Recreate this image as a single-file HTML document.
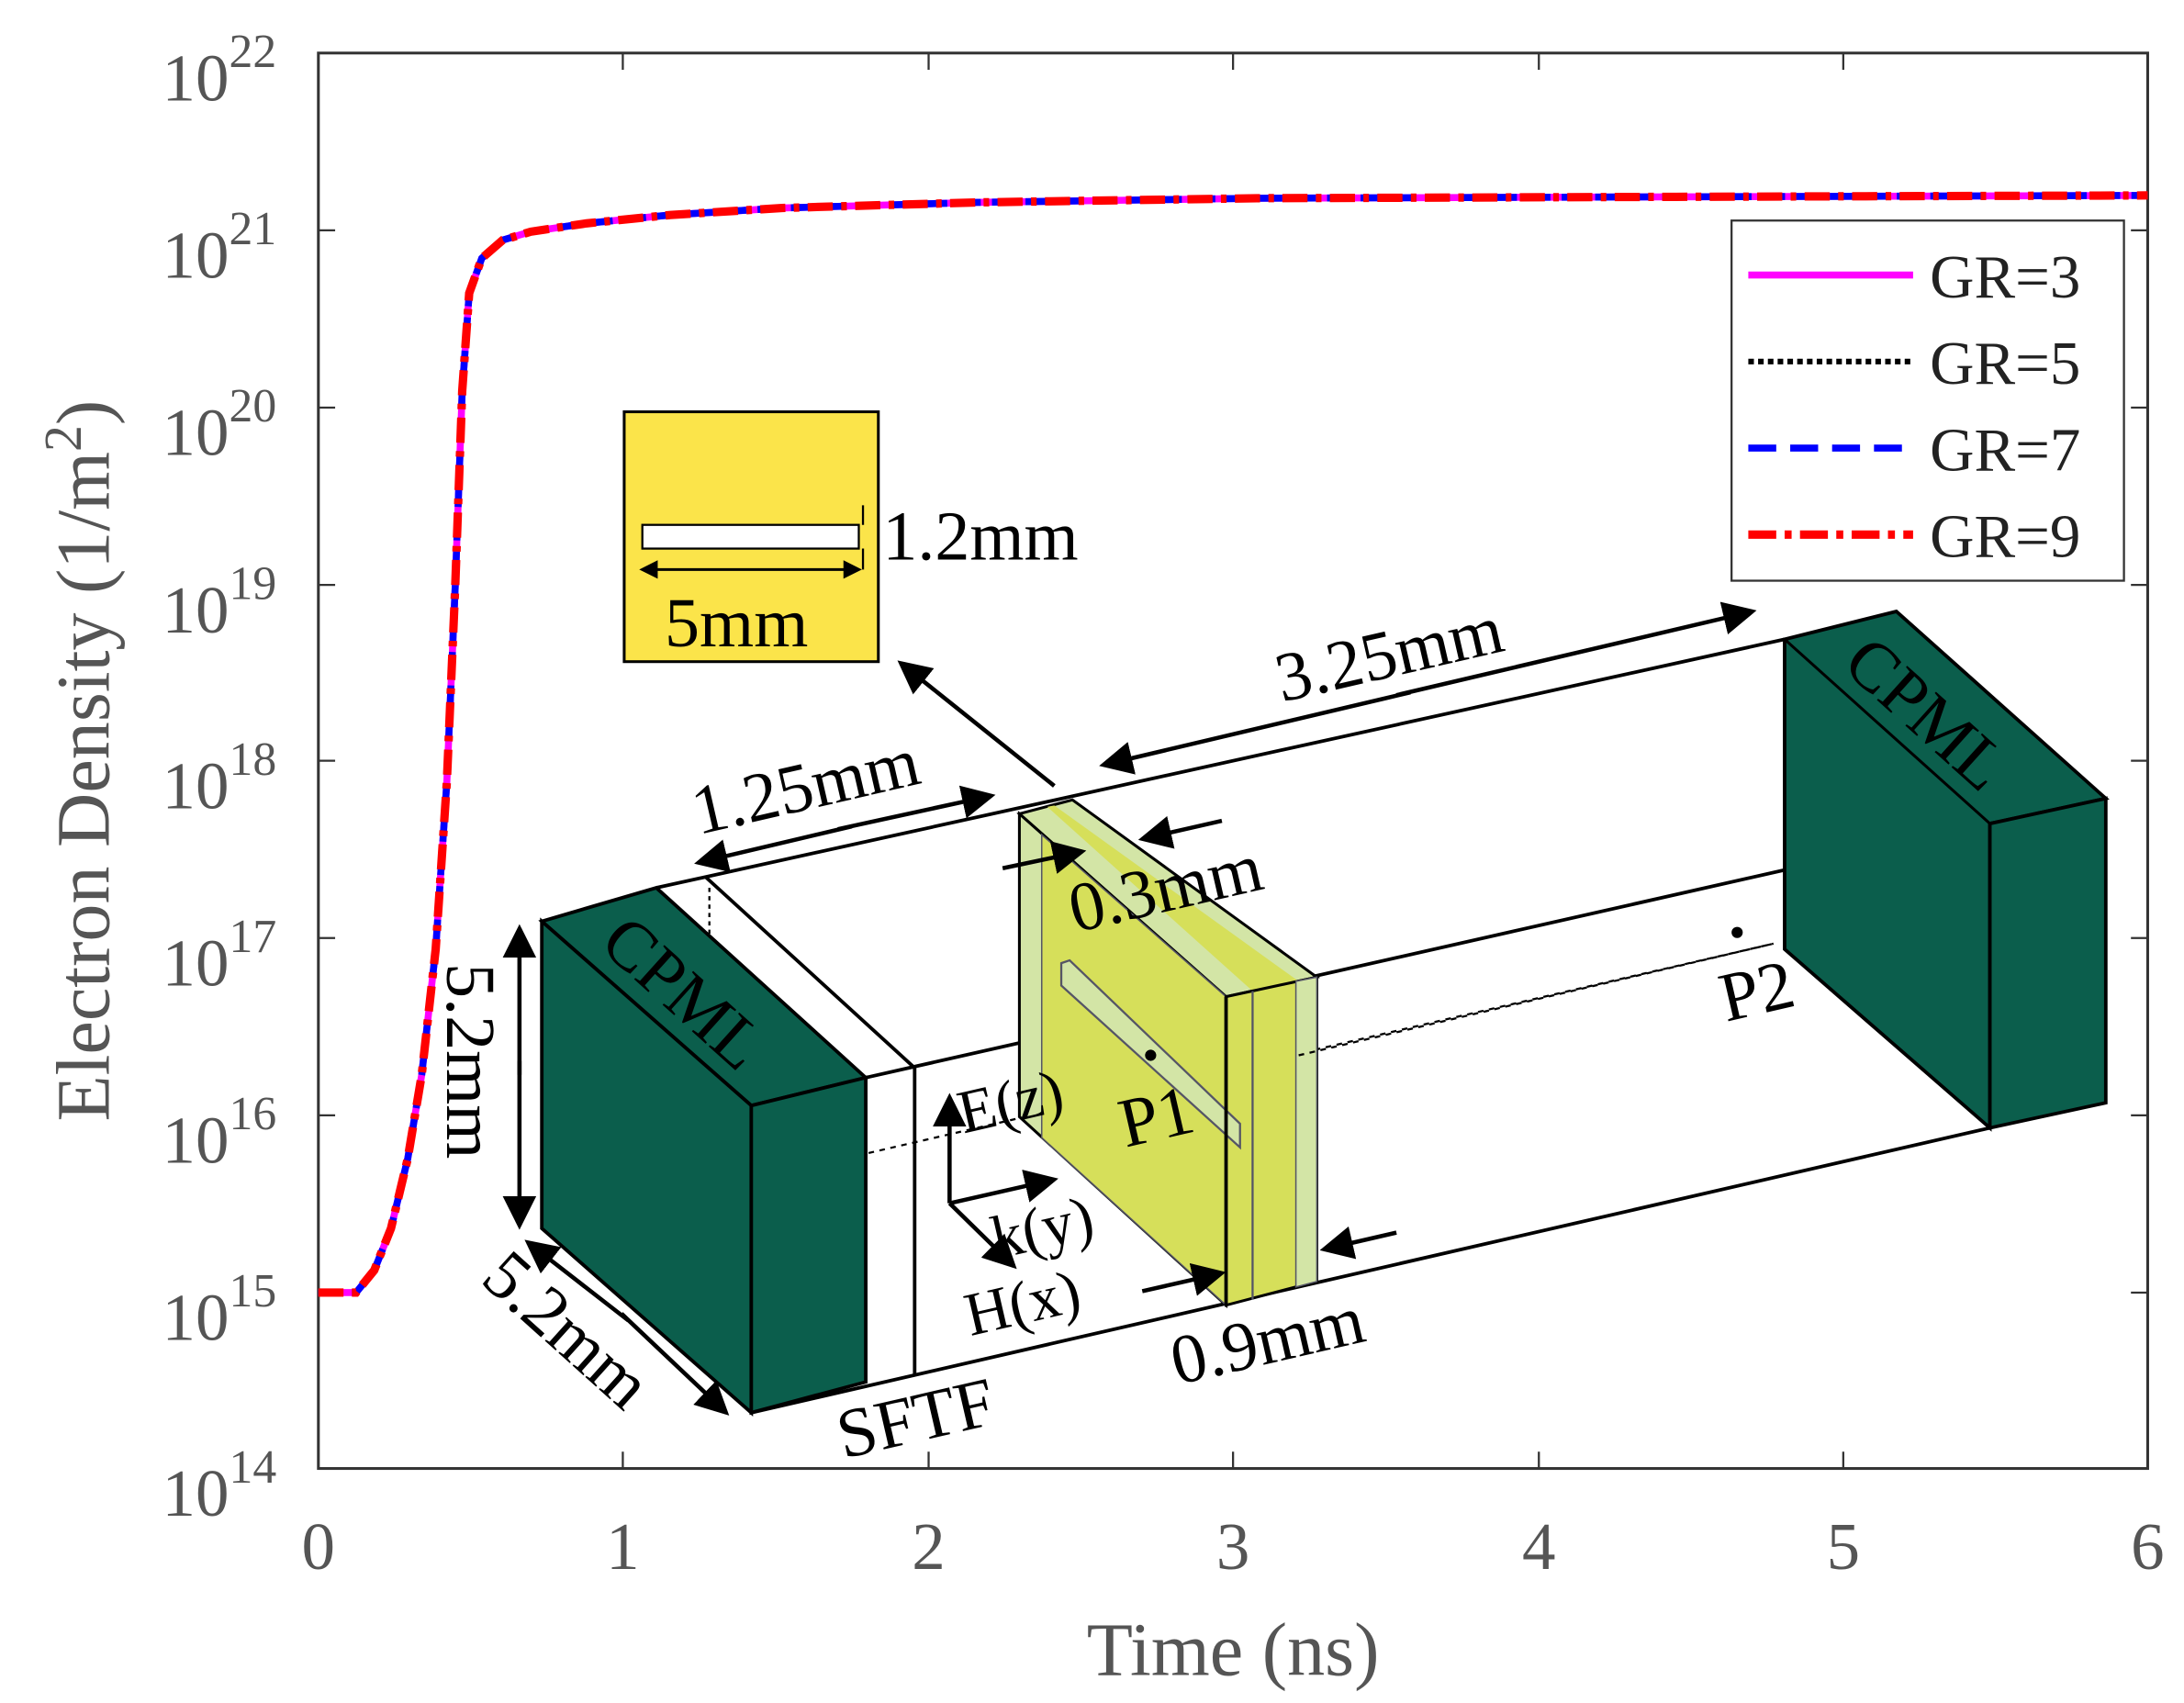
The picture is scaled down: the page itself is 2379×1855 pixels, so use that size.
<!DOCTYPE html>
<html><head><meta charset="utf-8"><style>html,body{margin:0;padding:0;background:#fff}svg{display:block}</style></head>
<body>
<svg width="2379" height="1855" viewBox="0 0 1564 1220" preserveAspectRatio="none" xmlns="http://www.w3.org/2000/svg" font-family="Liberation Serif, serif">
<rect width="1564" height="1220" fill="#fff"/>
<rect x="228" y="38" width="1310" height="1014" fill="none" stroke="#333" stroke-width="2"/>
<g stroke="#333" stroke-width="1.5">
<path d="M228 165h12M228 292h12M228 419h12M228 545h12M228 672h12M228 799h12M228 926h12"/>
<path d="M1538 165h-12M1538 292h-12M1538 419h-12M1538 545h-12M1538 672h-12M1538 799h-12M1538 926h-12"/>
<path d="M446 1052v-12M665 1052v-12M883 1052v-12M1102 1052v-12M1320 1052v-12"/>
<path d="M446 38v12M665 38v12M883 38v12M1102 38v12M1320 38v12"/>
</g>
<g fill="#555" font-size="48">
<g text-anchor="end">
<text x="198" y="72">10<tspan font-size="34" dy="-24">22</tspan></text>
<text x="198" y="199">10<tspan font-size="34" dy="-24">21</tspan></text>
<text x="198" y="326">10<tspan font-size="34" dy="-24">20</tspan></text>
<text x="198" y="453">10<tspan font-size="34" dy="-24">19</tspan></text>
<text x="198" y="579">10<tspan font-size="34" dy="-24">18</tspan></text>
<text x="198" y="706">10<tspan font-size="34" dy="-24">17</tspan></text>
<text x="198" y="833">10<tspan font-size="34" dy="-24">16</tspan></text>
<text x="198" y="960">10<tspan font-size="34" dy="-24">15</tspan></text>
<text x="198" y="1086">10<tspan font-size="34" dy="-24">14</tspan></text>
</g>
<g text-anchor="middle">
<text x="228" y="1124">0</text><text x="446" y="1124">1</text><text x="665" y="1124">2</text><text x="883" y="1124">3</text><text x="1102" y="1124">4</text><text x="1320" y="1124">5</text><text x="1538" y="1124">6</text>
<text x="883" y="1200" font-size="54">Time (ns)</text>
<text transform="translate(78 545) rotate(-90)" font-size="54">Electron Density (1/m<tspan font-size="38" dy="-20">2</tspan><tspan dy="20">)</tspan></text>
</g>
</g>
<path d="M228 926L255 926L268 910L280 880L292 830L302 770L312 680L320 560L326 420L331 280L336 210L345 185L360 172L380 166L420 160L480 154L560 149L700 145L900 142L1200 141L1538 140" fill="none" stroke="#ff00ff" stroke-width="5"/>
<path d="M228 926L255 926L268 910L280 880L292 830L302 770L312 680L320 560L326 420L331 280L336 210L345 185L360 172L380 166L420 160L480 154L560 149L700 145L900 142L1200 141L1538 140" fill="none" stroke="#0000ff" stroke-width="5" stroke-dasharray="16 8"/>
<path d="M228 926L255 926L268 910L280 880L292 830L302 770L312 680L320 560L326 420L331 280L336 210L345 185L360 172L380 166L420 160L480 154L560 149L700 145L900 142L1200 141L1538 140" fill="none" stroke="#ff0000" stroke-width="6" stroke-dasharray="18 6 4 6"/>
<rect x="1240" y="158" width="281" height="258" fill="#fff" stroke="#333" stroke-width="1.5"/>
<path d="M1252 197h118" stroke="#ff00ff" stroke-width="5"/>
<path d="M1252 259h118" stroke="#000" stroke-width="4" stroke-dasharray="4 3"/>
<path d="M1252 321h118" stroke="#0000ff" stroke-width="5" stroke-dasharray="20 10"/>
<path d="M1252 383h118" stroke="#ff0000" stroke-width="6" stroke-dasharray="20 6 5 6"/>
<g font-size="44" fill="#222">
<text x="1382" y="213">GR=3</text><text x="1382" y="275">GR=5</text><text x="1382" y="337">GR=7</text><text x="1382" y="399">GR=9</text>
</g>
<g stroke="#000" stroke-width="2.5" fill="none">
<path d="M470 636L1278 458"/>
<path d="M620 772L1425 590"/>
<path d="M538 1012L1425 808"/>
<path d="M505 628L655 765V985"/>
<path d="M620 772V990"/>
</g>
<path d="M622 826L1270 676" stroke="#000" stroke-width="1.5" stroke-dasharray="4 4" fill="none"/>
<path d="M508 636V672" stroke="#000" stroke-width="1.5" stroke-dasharray="3 3"/>
<polygon points="388,660 470,636 620,772 538,792" fill="#0b5e4c" stroke="#000" stroke-width="2.5"/>
<polygon points="388,660 538,792 538,1012 388,880" fill="#0b5e4c" stroke="#000" stroke-width="2.5"/>
<polygon points="538,792 620,772 620,990 538,1012" fill="#0b5e4c" stroke="#000" stroke-width="2.5"/>
<text transform="translate(428 678) rotate(42)" font-size="50" fill="#000">CPML</text>
<polygon points="1278,458 1358,438 1508,572 1425,590 1425,808 1278,680" fill="#0b5e4c" stroke="#000" stroke-width="2.5"/>
<polygon points="1425,590 1508,572 1508,790 1425,808" fill="#0b5e4c" stroke="#000" stroke-width="2.5"/>
<path d="M1278 458L1425 590" stroke="#000" stroke-width="2"/>
<text transform="translate(1318 478) rotate(42)" font-size="50" fill="#000">CPML</text>
<polygon points="730,583 768,573 943,700 878,714" fill="#d3e5a6" stroke="#000" stroke-width="2"/>
<polygon points="750,578 755,577 930,703 897,710" fill="#d6df5a"/>
<polygon points="730,583 878,714 878,935 730,800" fill="#d3e5a6" stroke="#000" stroke-width="2"/>
<polygon points="746,598 878,714 878,935 746,815" fill="#d6df5a" stroke="#556" stroke-width="1"/>
<polygon points="878,714 943,700 943,918 878,935" fill="#d6df5a" stroke="#000" stroke-width="2"/>
<polygon points="928,703 943,700 943,918 928,922" fill="#d3e5a6" stroke="#556" stroke-width="1"/>
<path d="M897 710V931" stroke="#556" stroke-width="1.5"/>
<polygon points="760,690 766,688 888,805 888,822 760,706" fill="#d3e5a6" stroke="#556" stroke-width="1.5"/>
<path d="M878 714V935" stroke="#000" stroke-width="2.5"/>
<circle cx="824" cy="756" r="4" fill="#000"/>
<circle cx="1244" cy="668" r="4" fill="#000"/>
<path d="M930 756L1270 676" stroke="#000" stroke-width="1.5" stroke-dasharray="4 4"/>
<rect x="447" y="295" width="182" height="179" fill="#fbe44a" stroke="#000" stroke-width="2"/>
<rect x="460" y="376" width="155" height="17" fill="#fff" stroke="#000" stroke-width="1.5"/>
<path d="M460 408H615M460 408l10-5v10zM615 408l-10-5v10z" stroke="#000" stroke-width="2" fill="#000"/>
<path d="M618 362V376M618 393V408" stroke="#000" stroke-width="1.5"/>
<text x="632" y="401" font-size="50" fill="#000">1.2mm</text>
<text x="476" y="463" font-size="50" fill="#000">5mm</text>
<defs><marker id="a" markerWidth="8" markerHeight="8" refX="7" refY="4" orient="auto" markerUnits="strokeWidth"><path d="M0 0L8 4L0 8z" fill="#000"/></marker></defs>
<g stroke="#000" stroke-width="3" fill="none" marker-end="url(#a)">
<path d="M755 563L645 475"/>
<path d="M600 594L710 570"/><path d="M610 592L500 618"/>
<path d="M1000 498L1255 438"/><path d="M1010 496L790 548"/>
<path d="M718 622L775 610"/><path d="M875 588L818 601"/>
<path d="M818 925L875 912"/><path d="M1000 883L948 895"/>
<path d="M372 770V665"/><path d="M372 760V878"/>
<path d="M450 946L378 890"/><path d="M445 941L520 1012"/>
<path d="M680 862V786"/><path d="M680 862L755 845"/><path d="M680 862L726 907"/>
</g>
<g font-size="50" fill="#000">
<text transform="translate(500 598) rotate(-13)">1.25mm</text>
<text transform="translate(918 503) rotate(-13)">3.25mm</text>
<text transform="translate(770 668) rotate(-13)">0.3mm</text>
<text transform="translate(843 992) rotate(-13)">0.9mm</text>
<text transform="translate(320 690) rotate(90)">5.2mm</text>
<text transform="translate(343 918) rotate(42)">5.2mm</text>
<text transform="translate(604 1045) rotate(-13)">SFTF</text>
<text transform="translate(690 812) rotate(-13)" font-size="44">E(z)</text>
<text transform="translate(806 822) rotate(-13)">P1</text>
<text transform="translate(1236 732) rotate(-13)">P2</text>
<text transform="translate(714 902) rotate(-13)" font-size="44">k(y)</text>
<text transform="translate(695 957) rotate(-13)" font-size="44">H(x)</text>
</g>
</svg>
</body></html>
